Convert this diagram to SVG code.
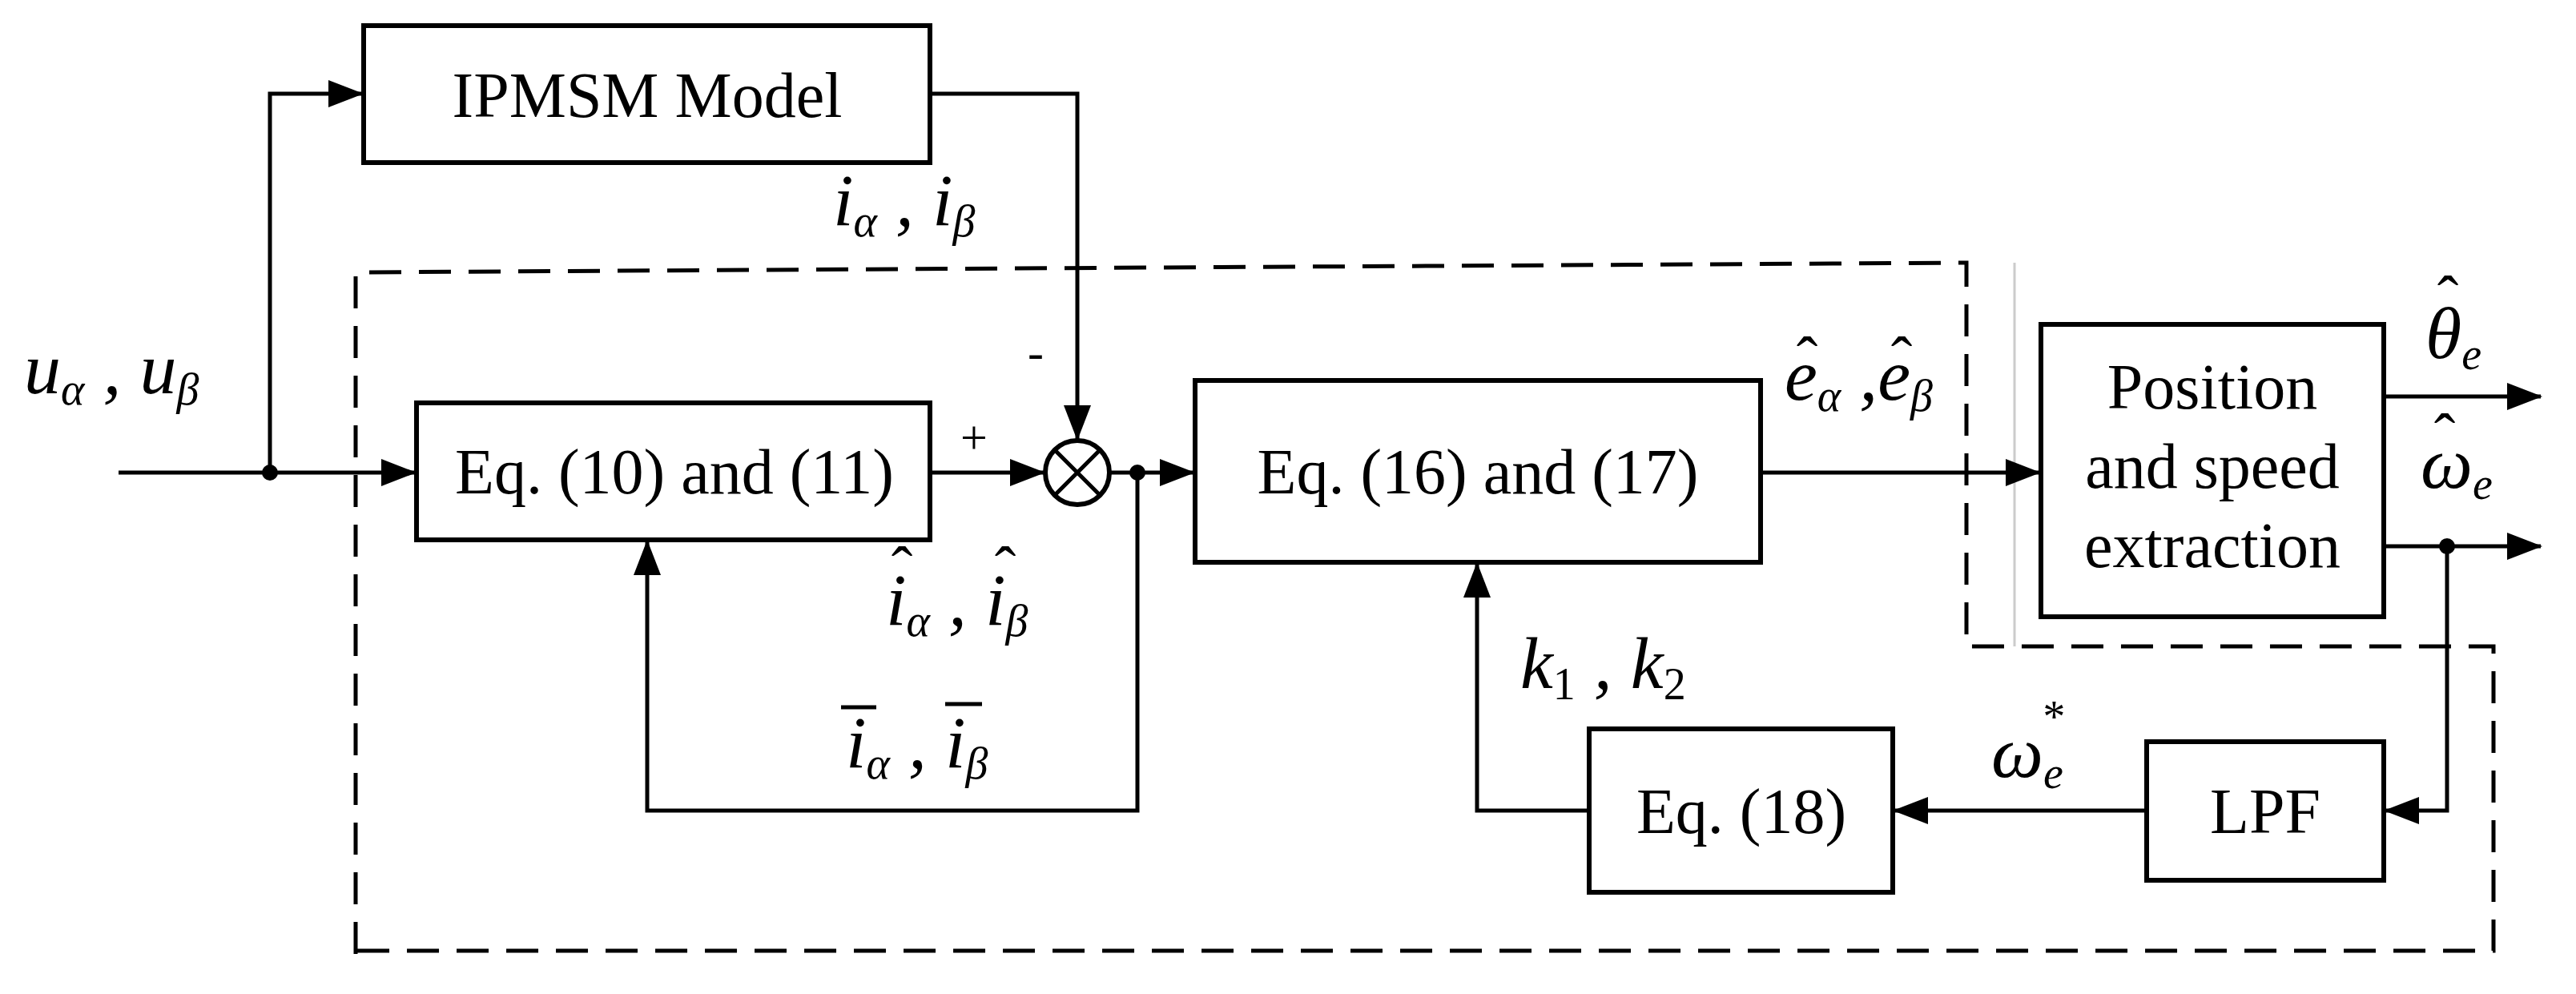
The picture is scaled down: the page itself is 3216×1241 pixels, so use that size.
<svg xmlns="http://www.w3.org/2000/svg" width="3216" height="1241" viewBox="0 0 3216 1241">
<style>
.b{fill:#fff;stroke:#000;stroke-width:6}
.l{fill:none;stroke:#000;stroke-width:5}
.d{fill:none;stroke:#000;stroke-width:5;stroke-dasharray:40 22}
text{font-family:'Liberation Serif','Times New Roman',Tinos,'DejaVu Serif',serif}
.t{font-size:80px;text-anchor:middle;fill:#000}
.m{font-style:italic;font-size:92px;fill:#000}
.h{font-style:normal;font-size:80px;text-anchor:middle;fill:#000}
.s{font-size:56px}
</style>
<defs>
<marker id="a" markerUnits="userSpaceOnUse" markerWidth="44" markerHeight="34" refX="42" refY="17" orient="auto"><path d="M0,0 L44,17 L0,34 Z" fill="#000"/></marker>
</defs>
<rect width="3216" height="1241" fill="#fff"/>
<g id="boundary">
<path class="d" d="M444,1191 V340 L2455,328 V807 H3113 V1187 H444"/>
<line x1="2515" y1="328" x2="2515" y2="807" stroke="#ccc" stroke-width="3"/>
</g>
<g id="connectors">
<path class="l" d="M148,590 H518" marker-end="url(#a)"/>
<path class="l" d="M337,590 V117 H452" marker-end="url(#a)"/>
<path class="l" d="M1161,117 H1345 V548" marker-end="url(#a)"/>
<path class="l" d="M1161,590 H1303" marker-end="url(#a)"/>
<path class="l" d="M1385,590 H1490" marker-end="url(#a)"/>
<path class="l" d="M1420,590 V1012 H808 V676" marker-end="url(#a)"/>
<path class="l" d="M2198,590 H2546" marker-end="url(#a)"/>
<path class="l" d="M2976,495 H3172" marker-end="url(#a)"/>
<path class="l" d="M2976,682 H3172" marker-end="url(#a)"/>
<path class="l" d="M3055,682 V1012 H2978" marker-end="url(#a)"/>
<path class="l" d="M2680,1012 H2365" marker-end="url(#a)"/>
<path class="l" d="M1984,1012 H1844 V704" marker-end="url(#a)"/>
<circle cx="337" cy="590" r="10"/>
<circle cx="1420" cy="590" r="10"/>
<circle cx="3055" cy="682" r="10"/>
</g>
<g id="ipmsm"><rect class="b" x="454" y="32" width="707" height="171"/><text class="t" x="808" y="146">IPMSM Model</text></g>
<g id="eq1011"><rect class="b" x="520" y="503" width="641" height="171"/><text class="t" x="842" y="616">Eq. (10) and (11)</text></g>
<g id="sum"><circle class="b" cx="1345" cy="590" r="40"/><path class="l" d="M1317,562 L1373,618 M1373,562 L1317,618"/></g>
<g id="eq1617"><rect class="b" x="1492" y="475" width="706" height="227"/><text class="t" x="1845" y="616">Eq. (16) and (17)</text></g>
<g id="pse"><rect class="b" x="2548" y="405" width="428" height="365"/><text class="t" x="2762" y="510">Position</text><text class="t" x="2762" y="609">and speed</text><text class="t" x="2762" y="708">extraction</text></g>
<g id="lpf"><rect class="b" x="2680" y="926" width="296" height="173"/><text class="t" x="2828" y="1040">LPF</text></g>
<g id="eq18"><rect class="b" x="1984" y="910" width="379" height="204"/><text class="t" x="2174" y="1040">Eq. (18)</text></g>
<g id="labels">
<text class="m" x="30" y="491">u<tspan class="s" dy="14">α</tspan><tspan dy="-14"> , u</tspan><tspan class="s" dy="14">β</tspan></text>
<text class="m" x="1040" y="281">i<tspan class="s" dy="14">α</tspan><tspan dy="-14">  ,  i</tspan><tspan class="s" dy="14">β</tspan></text>
<text class="t" x="1293" y="460" style="font-size:60px">-</text>
<text class="t" x="1216" y="566" style="font-size:60px">+</text>
<text class="m" x="1106" y="780">i<tspan class="s" dy="14">α</tspan><tspan dy="-14">  ,  i</tspan><tspan class="s" dy="14">β</tspan></text>
<text class="h" x="1126" y="738">ˆ</text><text class="h" x="1255" y="738">ˆ</text>
<text class="m" x="1056" y="958">i<tspan class="s" dy="14">α</tspan><tspan dy="-14"> , i</tspan><tspan class="s" dy="14">β</tspan></text>
<path class="l" d="M1050,883 H1094 M1180,879 H1226" stroke-width="4"/>
<text class="m" x="2228" y="499">e<tspan class="s" dy="14">α</tspan><tspan dy="-14"> ,e</tspan><tspan class="s" dy="14">β</tspan></text>
<text class="h" x="2256" y="476">ˆ</text><text class="h" x="2374" y="476">ˆ</text>
<text class="m" x="3028" y="447">θ<tspan class="s" dy="14">e</tspan></text>
<text class="h" x="3056" y="400">ˆ</text>
<text class="m" x="3022" y="609">ω<tspan class="s" dy="14">e</tspan></text>
<text class="h" x="3052" y="572">ˆ</text>
<text class="m" x="1898" y="859">k<tspan class="s" dy="14" style="font-style:normal">1</tspan><tspan dy="-14"> ,  k</tspan><tspan class="s" dy="14" style="font-style:normal">2</tspan></text>
<text class="m" x="2486" y="970">ω<tspan class="s" dy="14">e</tspan><tspan class="s" dx="-28" dy="-70">*</tspan></text>
</g>
</svg>
